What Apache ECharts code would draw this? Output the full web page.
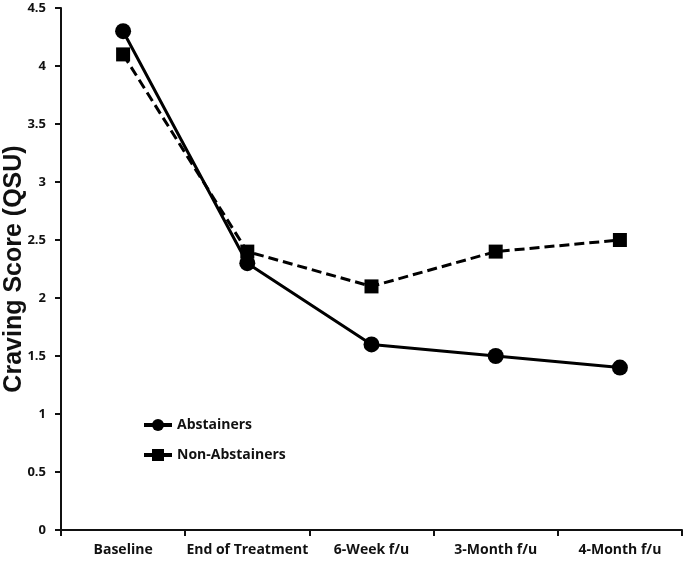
<!DOCTYPE html>
<html><head><meta charset="utf-8">
<script src="https://cdn.jsdelivr.net/npm/echarts@6/dist/echarts.min.js"></script>
<style>html,body{margin:0;padding:0;background:#fff}#c{width:685px;height:564px}</style>
</head><body><div id="c"></div>
<script>
var categories = ['Baseline', 'End of Treatment', '6-Week f/u', '3-Month f/u', '4-Month f/u'];
var abstainers = [4.3, 2.3, 1.6, 1.5, 1.4];
var nonAbstainers = [4.1, 2.4, 2.1, 2.4, 2.5];
var yTicks = [0, 0.5, 1, 1.5, 2, 2.5, 3, 3.5, 4, 4.5];

var chart = echarts.init(document.getElementById('c'));
chart.setOption({
  animation: false,
  backgroundColor: '#fff',
  grid: {left: 61, right: 3, top: 8, bottom: 34, outerBoundsMode: 'none', containLabel: false},
  legend: {
    orient: 'vertical', left: 137, top: 413, itemGap: 16, itemWidth: 28, itemHeight: 15,
    textStyle: {fontFamily: 'Open Sans', fontWeight: 'bold', fontSize: 14, color: '#111'},
    data: [
      {name: 'Abstainers', lineStyle: {width: 4}},
      {name: 'Non-Abstainers', lineStyle: {type: 'solid', width: 4}}
    ]
  },
  xAxis: {
    type: 'category', data: categories, boundaryGap: true,
    axisLine: {lineStyle: {color: '#111', width: 2}},
    axisTick: {show: true, length: 6, lineStyle: {color: '#111', width: 2}},
    axisLabel: {interval: 0, fontFamily: 'Open Sans', fontWeight: 'bold', fontSize: 14, color: '#111', margin: 13}
  },
  yAxis: {
    type: 'value', min: 0, max: 4.5, interval: 0.5,
    name: 'Craving Score (QSU)', nameLocation: 'middle', nameGap: 34, nameMoveOverlap: false,
    nameTextStyle: {fontFamily: 'Liberation Sans', fontWeight: 'bold', fontSize: 25, color: '#111'},
    axisLine: {show: true, lineStyle: {color: '#111', width: 2}},
    axisTick: {show: true, length: 6, lineStyle: {color: '#111', width: 2}},
    splitLine: {show: false},
    axisLabel: {fontFamily: 'Open Sans', fontWeight: 'bold', fontSize: 13, color: '#111', margin: 15,
      formatter: function (v) { return yTicks.indexOf(v) >= 0 ? String(v) : ''; }}
  },
  series: [
    {name: 'Abstainers', type: 'line', data: abstainers, symbol: 'circle', symbolSize: 16,
      lineStyle: {color: '#000', width: 3}, itemStyle: {color: '#000'}, z: 3},
    {name: 'Non-Abstainers', type: 'line', data: nonAbstainers, symbol: 'rect', symbolSize: 14,
      lineStyle: {color: '#000', width: 3, type: [10, 5]}, itemStyle: {color: '#000'}, z: 2}
  ]
});
</script></body></html>
